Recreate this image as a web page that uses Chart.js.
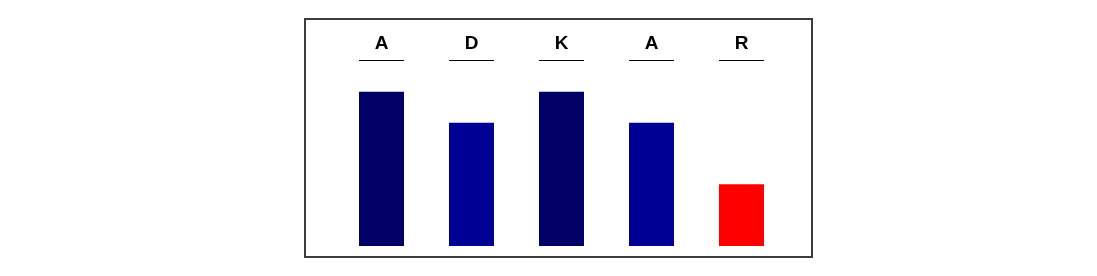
<!DOCTYPE html>
<html>
<head>
<meta charset="utf-8">
<script src="https://cdn.jsdelivr.net/npm/chart.js@4.4.0/dist/chart.umd.min.js"></script>
<style>
  html, body { margin: 0; padding: 0; background: #fff; }
  #wrap { position: relative; width: 1097px; height: 276px; }
</style>
</head>
<body>
<div id="wrap"><canvas id="barChart" width="1097" height="276"></canvas></div>
<script>
// chart data
const labels = ['A', 'D', 'K', 'A', 'R'];
const values = [5, 4, 5, 4, 2];
const barColors = ['#000066', '#000094', '#000066', '#000094', '#ff0000'];

// frame around the plot + labels with underline above each bar
const framePlugin = {
    id: 'frame',
    beforeDraw(chart) {
        const c = chart.ctx;
        c.save();
        c.strokeStyle = '#3c3c3c';
        c.lineWidth = 2;
        c.strokeRect(305, 19, 507, 238);
        c.restore();
    },
    afterDatasetsDraw(chart) {
        const c = chart.ctx;
        const x = chart.scales.x;
        const meta = chart.getDatasetMeta(0);
        c.save();
        c.fillStyle = '#000';
        c.strokeStyle = '#000';
        c.lineWidth = 1;
        c.font = 'bold 19px "Liberation Sans", Arial, sans-serif';
        c.textAlign = 'center';
        c.textBaseline = 'middle';
        labels.forEach((lab, i) => {
            const cx = x.getPixelForTick(i);
            const half = meta.data[i].width / 2;
            c.fillText(lab, cx, 44);
            c.beginPath();
            c.moveTo(cx - half, 60.5);
            c.lineTo(cx + half, 60.5);
            c.stroke();
        });
        c.restore();
    }
};

const ctx = document.getElementById('barChart').getContext('2d');
const chart = new Chart(ctx, {
    type: 'bar',
    data: {
        labels: labels,
        datasets: [{
            data: values,
            backgroundColor: barColors,
            borderWidth: 0,
            barPercentage: 0.5,
            categoryPercentage: 1,
        }],
    },
    options: {
        responsive: false,
        animation: false,
        layout: { padding: { left: 336.5, right: 310.5, top: 61, bottom: 30 } },
        plugins: { legend: { display: false }, tooltip: { enabled: false } },
        scales: {
            x: { display: false },
            y: { display: false, min: 0, max: 6 },
        },
    },
    plugins: [framePlugin],
});
</script>
</body>
</html>
